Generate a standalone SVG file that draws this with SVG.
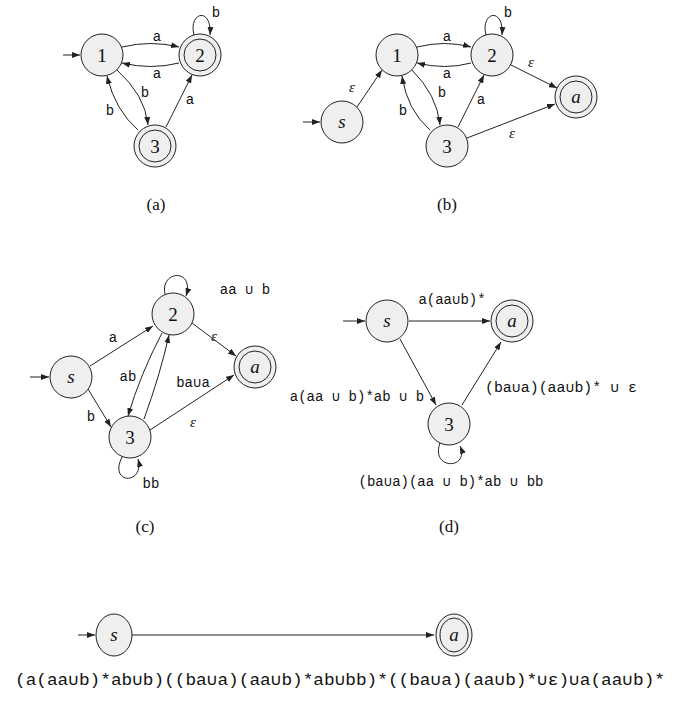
<svg xmlns="http://www.w3.org/2000/svg" width="682" height="709" viewBox="0 0 682 709">
<style>
.n{fill:#efefef;stroke:#222;stroke-width:1}
.in{fill:none;stroke:#222;stroke-width:1}
.e{fill:none;stroke:#222;stroke-width:1;marker-end:url(#ar)}
.t{font-family:"Liberation Serif",serif;font-size:19px;text-anchor:middle;fill:#111}
.v{font-family:"Liberation Serif",serif;font-style:italic;font-size:19px;text-anchor:middle;fill:#111}
.m{font-family:"Liberation Mono","DejaVu Sans Mono",monospace;font-size:14px;text-anchor:middle;fill:#111}
.c{font-family:"Liberation Serif",serif;font-size:17px;text-anchor:middle;fill:#111}
</style>
<defs><marker id="ar" markerWidth="8" markerHeight="6" refX="8" refY="3" orient="auto" markerUnits="userSpaceOnUse"><path d="M0,0L8,3L0,6z" fill="#222"/></marker></defs>
<rect width="682" height="709" fill="#fff"/>
<g id="connectors">
<path class="e" d="M63,55H80"/>
<path class="e" d="M122,47Q151,40 179,47"/>
<path class="e" d="M179,63Q151,70 122,63"/>
<path class="e" d="M194,35C188,12 212,6 210,35"/>
<path class="e" d="M117,70Q145,95 148,125"/>
<path class="e" d="M138,130Q115,110 107,76"/>
<path class="e" d="M166,127L192,75"/>
<path class="e" d="M303,122H320"/>
<path class="e" d="M357,107L382,70"/>
<path class="e" d="M417,47Q445,40 471,47"/>
<path class="e" d="M471,63Q445,70 417,63"/>
<path class="e" d="M486,35C480,12 504,6 502,35"/>
<path class="e" d="M412,70Q437,95 440,125"/>
<path class="e" d="M430,130Q407,110 402,76"/>
<path class="e" d="M458,127L484,75"/>
<path class="e" d="M511,65L557,88"/>
<path class="e" d="M467,138L555,104"/>
<path class="e" d="M30,377H49"/>
<path class="e" d="M90,366L153,326"/>
<path class="e" d="M165,294C160,270 195,268 186,296"/>
<path class="e" d="M192,323L236,356"/>
<path class="e" d="M162,333Q140,375 128,416"/>
<path class="e" d="M144,419Q160,375 169,335"/>
<path class="e" d="M88,389L111,427"/>
<path class="e" d="M150,430L234,375"/>
<path class="e" d="M122,457C108,485 145,485 138,459"/>
<path class="e" d="M343,321H365"/>
<path class="e" d="M409,321H490"/>
<path class="e" d="M400,339L436,405"/>
<path class="e" d="M462,405L501,342"/>
<path class="e" d="M440,443C430,470 470,470 460,446"/>
<path class="e" d="M78,635H95"/>
<path class="e" d="M131,635H434"/>
</g>
<g id="labels">
<text class="m" x="157" y="41">a</text><text class="m" x="157" y="78">a</text>
<text class="m" x="216" y="17">b</text><text class="m" x="145" y="97">b</text>
<text class="m" x="110" y="115">b</text><text class="m" x="190" y="104">a</text>
<text class="v" x="352" y="92" style="font-size:15px">ε</text>
<text class="m" x="447" y="41">a</text><text class="m" x="447" y="78">a</text>
<text class="m" x="508" y="17">b</text><text class="m" x="442" y="97">b</text>
<text class="m" x="403" y="115">b</text><text class="m" x="481" y="104">a</text>
<text class="v" x="531" y="67" style="font-size:15px">ε</text>
<text class="v" x="512" y="138" style="font-size:15px">ε</text>
<text class="m" x="245" y="294">aa ∪ b</text>
<text class="m" x="113" y="342">a</text>
<text class="v" x="214" y="341" style="font-size:15px">ε</text>
<text class="m" x="128" y="381">ab</text>
<text class="m" x="193" y="387">ba∪a</text>
<text class="m" x="91" y="421">b</text>
<text class="v" x="193" y="427" style="font-size:15px">ε</text>
<text class="m" x="151" y="488">bb</text>
<text class="m" x="452" y="304">a(aa∪b)*</text>
<text class="m" x="357" y="401">a(aa ∪ b)*ab ∪ b</text>
<text class="m" x="561" y="392" textLength="152" lengthAdjust="spacingAndGlyphs">(ba∪a)(aa∪b)* ∪ ε</text>
<text class="m" x="451" y="486">(ba∪a)(aa ∪ b)*ab ∪ bb</text>
<text class="m" x="340" y="685" textLength="650" lengthAdjust="spacingAndGlyphs" style="font-size:16px">(a(aa∪b)*ab∪b)((ba∪a)(aa∪b)*ab∪bb)*((ba∪a)(aa∪b)*∪ε)∪a(aa∪b)*</text>
<text class="c" x="156" y="210">(a)</text><text class="c" x="447" y="210">(b)</text>
<text class="c" x="145" y="532">(c)</text><text class="c" x="449" y="532">(d)</text>
</g>
<g id="a1"><circle class="n" cx="102" cy="55" r="21"/><text class="t" x="102" y="62">1</text></g>
<g id="a2"><circle class="n" cx="200" cy="55" r="21"/><circle class="in" cx="200" cy="55" r="16"/><text class="t" x="200" y="62">2</text></g>
<g id="a3"><circle class="n" cx="155" cy="146" r="21"/><circle class="in" cx="155" cy="146" r="16"/><text class="t" x="155" y="153">3</text></g>
<g id="bs"><circle class="n" cx="342" cy="122" r="21"/><text class="v" x="342" y="128">s</text></g>
<g id="b1"><circle class="n" cx="397" cy="55" r="21"/><text class="t" x="397" y="62">1</text></g>
<g id="b2"><circle class="n" cx="492" cy="55" r="21"/><text class="t" x="492" y="62">2</text></g>
<g id="b3"><circle class="n" cx="447" cy="146" r="21"/><text class="t" x="447" y="153">3</text></g>
<g id="ba"><circle class="n" cx="576" cy="97" r="21"/><circle class="in" cx="576" cy="97" r="16"/><text class="v" x="576" y="103">a</text></g>
<g id="cs"><circle class="n" cx="71" cy="377" r="21"/><text class="v" x="71" y="383">s</text></g>
<g id="c2"><circle class="n" cx="173" cy="314" r="21"/><text class="t" x="173" y="321">2</text></g>
<g id="c3"><circle class="n" cx="130" cy="437" r="21"/><text class="t" x="130" y="444">3</text></g>
<g id="ca"><circle class="n" cx="255" cy="367" r="21"/><circle class="in" cx="255" cy="367" r="16"/><text class="v" x="255" y="373">a</text></g>
<g id="ds"><circle class="n" cx="387" cy="321" r="21"/><text class="v" x="387" y="327">s</text></g>
<g id="da"><circle class="n" cx="512" cy="321" r="21"/><circle class="in" cx="512" cy="321" r="16"/><text class="v" x="512" y="327">a</text></g>
<g id="d3"><circle class="n" cx="449" cy="424" r="21"/><text class="t" x="449" y="431">3</text></g>
<g id="es"><ellipse class="n" cx="114" cy="635" rx="18" ry="21"/><text class="v" x="114" y="641">s</text></g>
<g id="ea"><ellipse class="n" cx="454" cy="635" rx="18" ry="21"/><ellipse class="in" cx="454" cy="635" rx="14" ry="17"/><text class="v" x="454" y="641">a</text></g>
</svg>
